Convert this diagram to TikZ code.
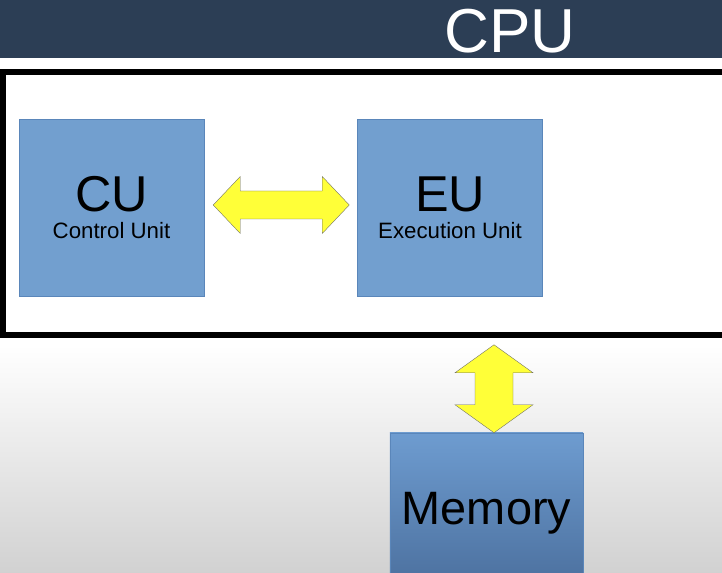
\documentclass[tikz,border=0pt]{standalone}
\usepackage{fontspec}
\setmainfont{Liberation Sans}
\usetikzlibrary{positioning, calc}

\definecolor{barblue}{HTML}{2C3E55}
\definecolor{boxblue}{HTML}{729FCF}
\definecolor{boxline}{HTML}{5A86BA}
\definecolor{memtop}{HTML}{6E9CD0}
\definecolor{membot}{HTML}{4A6E9C}
\definecolor{arrowyellow}{HTML}{FFFF38}

\tikzset{
    unit/.style={draw=boxline, fill=boxblue, minimum width=5.55cm, minimum height=5.31cm, inner sep=0, align=center},
    busarrow/.style={draw=black!60, line width=0.3pt, fill=arrowyellow, line join=miter}
}

\begin{document}
\begin{tikzpicture}[x=0.03cm, y=-0.03cm]
            % background
            \useasboundingbox (0, 0) rectangle (722, 573);
            \fill[white] (0, 0) rectangle (722, 573);
            \shade[top color=white, bottom color=black!18] (0, 345) rectangle (722, 573);
            \fill[barblue] (0, 0) rectangle (722, 58);
            \node[white, font=\fontsize{53}{60}\selectfont] (cpu) at (510, 31) {CPU};
            \draw[line width=5.5pt] (3, 72) rectangle (730, 335);

            \node[unit] (cu) at (111.5, 207.5) {\fontsize{43}{46}\selectfont CU\\[8pt]\fontsize{19}{22}\selectfont Control Unit};
            \node[unit] (eu) at (450, 207.5) {\fontsize{43}{46}\selectfont EU\\[8pt]\fontsize{19}{22}\selectfont Execution Unit};
            \node[draw=boxline, top color=memtop, bottom color=membot, minimum width=5.79cm, minimum height=4.8cm, inner sep=0, font=\fontsize{40}{44}\selectfont] (memory) at (486.5, 513) {Memory};

            % CU <-> EU
            \coordinate (cuTip) at ($(cu.east)+(9, -2.5)$);
            \draw[busarrow] (cuTip) -- ++(27, -28.5) -- ++(0, 14.5) -- ++(82, 0) -- ++(0, -14.5)
                -- ++(27, 28.5) -- ++(-27, 28.5) -- ++(0, -14.5) -- ++(-82, 0) -- ++(0, 14.5) -- cycle;
            % EU <-> Memory
            \coordinate (memTip) at ($(memory.north)+(7.5, 0)$);
            \draw[busarrow] (memTip) -- ++(39, -28) -- ++(-20, 0) -- ++(0, -32) -- ++(20, 0)
                -- ++(-39, -28) -- ++(-39, 28) -- ++(20, 0) -- ++(0, 32) -- ++(-20, 0) -- cycle;
        \end{tikzpicture}
\end{document}
